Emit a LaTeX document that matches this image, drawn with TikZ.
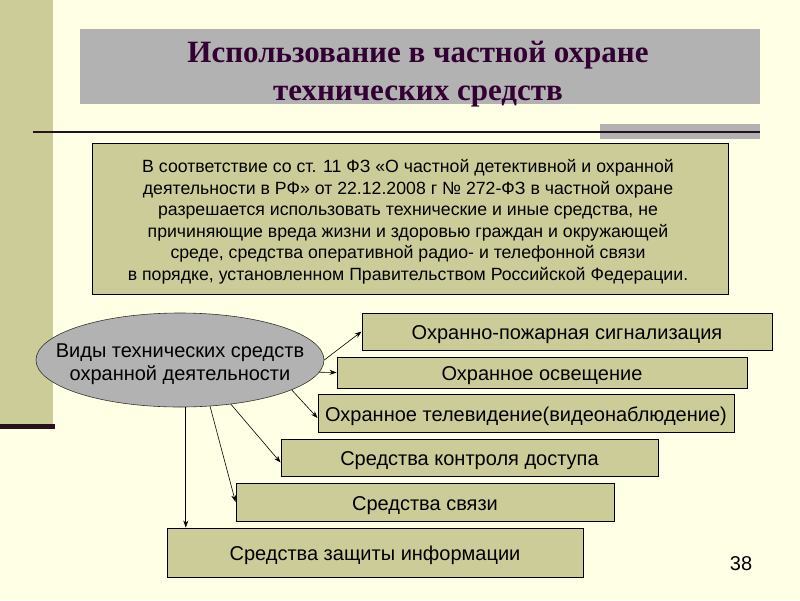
\documentclass[tikz,border=0pt]{standalone}
\usepackage{fontspec}
\setmainfont{Liberation Sans}
\newfontfamily\titlefont{Liberation Serif}
\usetikzlibrary{shapes.geometric,arrows.meta}
\definecolor{bgc}{RGB}{255,255,229}
\definecolor{olive}{RGB}{204,204,153}
\definecolor{grayc}{RGB}{178,178,178}
\definecolor{darkc}{RGB}{42,15,31}
\definecolor{titlec}{RGB}{51,0,51}
\tikzset{
  kbox/.style={draw=black, line width=0.9pt, fill=olive, inner sep=0pt,
    font=\fontsize{20}{24}\selectfont, text height=20pt, text depth=4pt},
  arr/.style={-{Stealth[length=7pt,width=5pt]}, line width=0.6pt, draw=black},
}
\begin{document}
\begin{tikzpicture}[x=1pt,y=-1pt]
\useasboundingbox (0,0) rectangle (800,600);
\fill[bgc] (0,0) rectangle (800,600);
% left bar
\fill[olive] (0,0) rectangle (53,425);
\fill[darkc] (0,424) rectangle (55,429);
% title
\node[fill=grayc, minimum width=680pt, minimum height=75pt, inner sep=0pt] (title) at (420,66.5) {};
\node[font=\titlefont\bfseries\fontsize{31}{38}\selectfont, text=titlec, align=center] (titletext) at (418,74) {Использование в частной охране\\технических средств};
% separator
\fill[grayc] (600,124) rectangle (760,139);
\draw[darkc, line width=2.5pt] (33,132) -- (760,132);
% law text box
\node[draw=black, line width=0.9pt, fill=olive, minimum width=636pt, minimum height=151pt, inner sep=0pt] (law) at (410,218.5) {};
\node[align=center, font=\fontsize{17.7}{21.5}\selectfont] (lawtext) at (408,222) {В соответствие со ст. 11 ФЗ «О частной детективной и охранной\\деятельности в РФ» от 22.12.2008 г № 272-ФЗ в частной охране\\разрешается использовать технические и иные средства, не\\причиняющие вреда жизни и здоровью граждан и окружающей\\среде, средства оперативной радио- и телефонной связи\\в порядке, установленном Правительством Российской Федерации.};
% ellipse
\node[ellipse, draw=black!80, line width=0.6pt, fill=grayc, minimum width=288pt, minimum height=94pt, inner sep=0pt] (el) at (180,360) {};
\node[align=center, font=\fontsize{20}{23}\selectfont] (eltext) at (180,364) {Виды технических средств\\охранной деятельности};
% boxes
\node[kbox, minimum width=410pt, minimum height=37pt] (b1) at (567,331.5) {Охранно-пожарная сигнализация};
\node[kbox, minimum width=410pt, minimum height=31pt] (b2) at (542,372.5) {Охранное освещение};
\node[kbox, minimum width=416pt, minimum height=38pt] (b3) at (526,413) {Охранное телевидение(видеонаблюдение)};
\node[kbox, minimum width=377pt, minimum height=37pt] (b4) at (469.5,457.5) {Средства контроля доступа};
\node[kbox, minimum width=378pt, minimum height=38pt] (b5) at (425,502) {Средства связи};
\node[kbox, minimum width=416pt, minimum height=49pt] (b6) at (375,552.5) {Средства защиты информации};
% arrows
\draw[arr] (el.east) -- (b1.west);
\draw[arr] (el.-5) -- (b2.west);
\draw[arr] (el.-15) -- ([yshift=-5pt]b3.west);
\draw[arr] (el.-41) -- ([yshift=-5pt]b4.west);
\draw[arr] (el.-57) -- (b5.west);
\draw[arr] (el.-83) -- (el.-83 |- b6.north);
% page number
\node[font=\fontsize{20}{24}\selectfont] (pnum) at (741,564) {38};
\end{tikzpicture}
\end{document}
